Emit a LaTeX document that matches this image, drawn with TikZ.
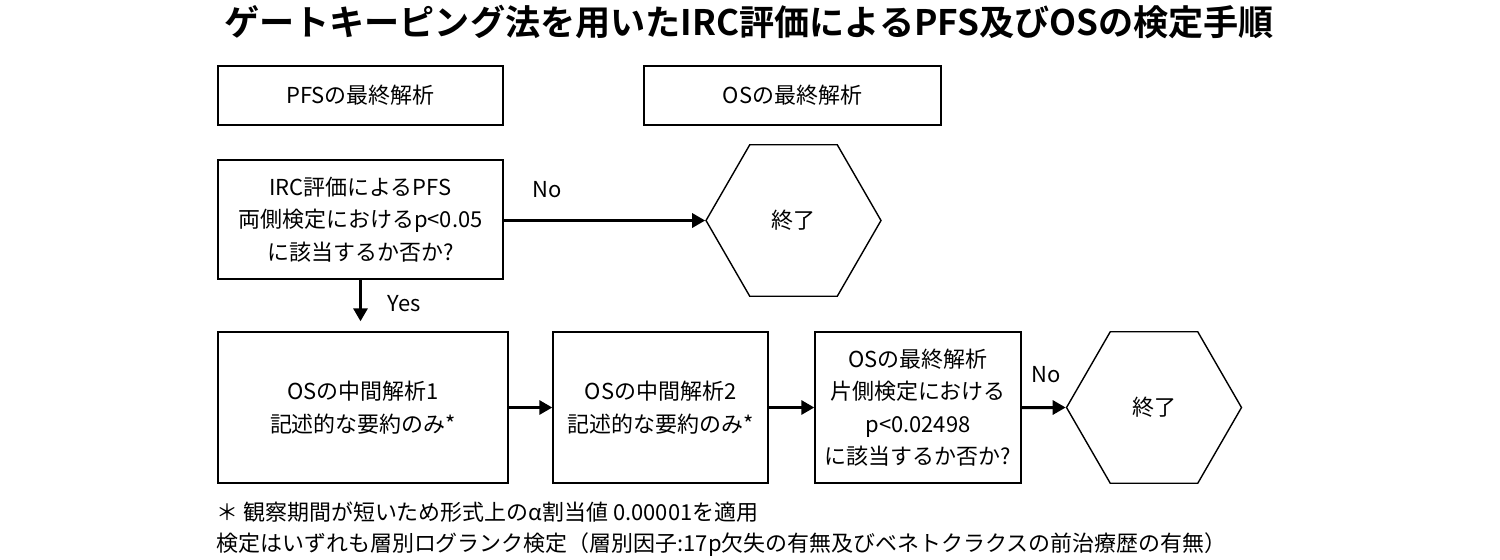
\documentclass[tikz,border=0pt]{standalone}
\usepackage{fontspec}
\setmainfont{Noto Sans CJK JP}[BoldFont={* Bold}]
\usepackage{tikz}
\usetikzlibrary{shapes.geometric, arrows.meta, positioning, calc}

\begin{document}
\begin{tikzpicture}[
    x=0.02cm, y=-0.02cm,
    font=\fontsize{12.5}{18.5}\selectfont,
    block/.style={rectangle, draw, line width=0.8pt, align=center, inner sep=2pt},
    hexa/.style={regular polygon, regular polygon sides=6, draw, line width=0.8pt, minimum size=3.5cm, inner sep=0pt},
    line/.style={draw, line width=1.7pt, -{Triangle[length=2.6mm, width=2.8mm]}}
]
    \useasboundingbox (0,0) rectangle (1500,559);

    % Title
    \node (title) at (749,22) {\fontsize{20}{24}\selectfont\bfseries ゲートキーピング法を用いたIRC評価によるPFS及びOSの検定手順};

    % Headers
    \node (pfshead) [block, minimum width=5.7cm, minimum height=1.18cm] at (360.5,95.5) {PFSの最終解析};
    \node (oshead) [block, minimum width=5.94cm, minimum height=1.18cm] at (792.5,95.5) {OSの最終解析};

    % Nodes
    \node (pfstest) [block, minimum width=5.7cm, minimum height=2.38cm] at (360.5,219.5) {IRC評価によるPFS\\両側検定におけるp<0.05\\に該当するか否か?};
    \node (end1) [hexa] at (793.5,220.5) {終了};

    \node (osint1) [block, minimum width=5.8cm, minimum height=3.02cm] at (363,407.5) {OSの中間解析1\\記述的な要約のみ*};
    \node (osint2) [block, minimum width=4.3cm, minimum height=3.02cm] at (660.5,407.5) {OSの中間解析2\\記述的な要約のみ*};
    \node (ostest) [block, minimum width=4.12cm, minimum height=3.02cm] at (918,407.5) {OSの最終解析\\片側検定における\\p<0.02498\\に該当するか否か?};
    \node (end2) [hexa] at (1154,407.5) {終了};

    % Connectors
    \path [line] (pfstest.east |- end1.west) -- (end1.west);
    \node (no1) at (547,190) {No};
    \coordinate (yestip) at ([yshift=0.2cm]pfstest.south |- osint1.north);
    \path [line] (pfstest.south) -- (yestip);
    \node (yes) at (404,304) {Yes};

    \path [line] (osint1) -- (osint2);
    \path [line] (osint2) -- (ostest);
    \path [line] (ostest) -- (end2.west);
    \node (no2) at (1046,375) {No};

    % Footnotes
    \node (note1) [anchor=west, inner sep=0pt] at (216,512) {＊ 観察期間が短いため形式上のα割当値 0.00001を適用};
    \node (note2) [anchor=west, inner sep=0pt] at (216,545) {検定はいずれも層別ログランク検定（層別因子:17p欠失の有無及びベネトクラクスの前治療歴の有無）};

\end{tikzpicture}
\end{document}
